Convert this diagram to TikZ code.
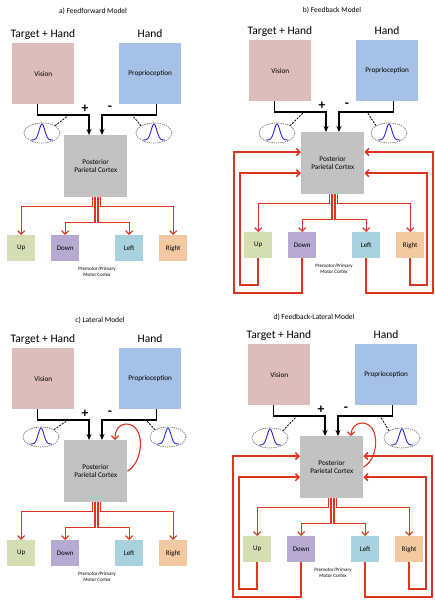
\documentclass[tikz,border=0pt]{standalone}
\usepackage{fontspec}
\setmainfont{Carlito}
\usetikzlibrary{arrows.meta,shapes.geometric,calc}
\definecolor{visc}{RGB}{221,188,188}
\definecolor{propc}{RGB}{166,193,230}
\definecolor{ppcc}{RGB}{194,194,194}
\definecolor{upc}{RGB}{213,222,178}
\definecolor{downc}{RGB}{182,170,210}
\definecolor{leftc}{RGB}{168,210,222}
\definecolor{rightc}{RGB}{243,201,162}
\definecolor{myred}{RGB}{224,52,30}
\definecolor{gaussc}{RGB}{40,40,220}
\tikzset{
  ppcbox/.style={anchor=north west,fill=ppcc,minimum width=63pt,minimum height=62pt,inner sep=0pt,align=center,font=\fontsize{7.2}{8.6}\selectfont},
  vbox/.style={anchor=north west,minimum width=62pt,minimum height=61pt,inner sep=0pt,font=\fontsize{7.2}{8}\selectfont},
  mbox/.style={anchor=north west,minimum width=28pt,minimum height=26pt,inner sep=0pt,font=\fontsize{7}{8}\selectfont},
  headtxt/.style={font=\fontsize{11.5}{13}\selectfont,inner sep=0pt},
  titletxt/.style={font=\fontsize{7.5}{9}\selectfont,inner sep=0pt},
  smalltxt/.style={font=\fontsize{5}{6}\selectfont,align=center,inner sep=0pt},
  signtxt/.style={font=\fontsize{13.5}{14}\bfseries\selectfont,inner sep=0pt},
  gell/.style={ellipse,draw=black!70,dashed,dash pattern=on 1.2pt off 1pt,line width=0.6pt,minimum width=36pt,minimum height=20pt,inner sep=0pt},
  gauss/.style={gaussc,line width=0.9pt},
  blk/.style={black,line width=1.3pt,-{Stealth[length=6pt,width=5pt]}},
  dline/.style={black,line width=0.8pt,dashed,dash pattern=on 2pt off 1.2pt},
  redarr/.style={myred,line width=1.2pt,-{Straight Barb[length=3.5pt,width=7pt]}},
  fbarr/.style={myred,line width=1.5pt,-{Straight Barb[length=3.5pt,width=7pt]}},
  latarr/.style={myred,line width=1.1pt,-{Straight Barb[length=3.5pt,width=7pt]}},
}
% #1 prefix, #2 left ellipse x, #3 right ellipse x, #4 ellipse y
\newcommand\panelcore[4]{%
  \node[ppcbox] (#1ppc) at (0,0) {Posterior\\Parietal Cortex};
  \node[vbox,fill=visc] (#1vis) at (-52,-92) {Vision};
  \node[vbox,fill=propc] (#1prop) at (55,-92) {Proprioception};
  \node[headtxt] (#1th) at (-21,-101) {Target + Hand};
  \node[headtxt] (#1h) at (86,-101) {Hand};
  \coordinate (#1ml) at (25,-20);
  \coordinate (#1mr) at (38,-20);
  \draw[blk] ([xshift=-6pt]#1vis.south) |- (#1ml) -- ([xshift=25pt]#1ppc.north west);
  \draw[blk] ([xshift=6pt]#1prop.south) |- (#1mr) -- ([xshift=38pt]#1ppc.north west);
  \node[signtxt] (#1plus) at (21,-26) {+};
  \node[signtxt] (#1minus) at (46,-27) {-};
  \node[gell] (#1el) at (#2,#4) {};
  \node[gell] (#1er) at (#3,#4) {};
  \draw[gauss] plot[smooth,domain=-11:11,samples=31] ({\x+#2},{#4+7-16*exp(0-(\x/4)*(\x/4))});
  \draw[gauss] plot[smooth,domain=-11:11,samples=31] ({\x+#3},{#4+7-16*exp(0-(\x/4)*(\x/4))});
  \coordinate (#1dl) at ({#2+27},-20);
  \coordinate (#1dr) at ({#3-22},-20);
  \draw[dline] (#1el.north east) -- (#1dl);
  \draw[dline] (#1er.north west) -- (#1dr);
  \node[mbox,fill=upc] (#1up) at (-57,100) {Up};
  \node[mbox,fill=downc] (#1down) at (-13,100) {Down};
  \node[mbox,fill=leftc] (#1left) at (51,100) {Left};
  \node[mbox,fill=rightc] (#1right) at (95,100) {Right};
  \node[smalltxt] (#1pm) at (33,137) {Premotor/Primary\\Motor Cortex};
  \draw[redarr] ([xshift=28.5pt]#1ppc.south west) -- ++(0,9) -| (#1up.north);
  \draw[redarr] ([xshift=31pt]#1ppc.south west) -- ++(0,25) -| (#1down.north);
  \draw[redarr] ([xshift=34pt]#1ppc.south west) -- ++(0,25) -| (#1left.north);
  \draw[redarr] ([xshift=36.5pt]#1ppc.south west) -- ++(0,9) -| (#1right.north);
}
\newcommand\feedback[1]{%
  \coordinate (#1fa) at (-61,153);
  \coordinate (#1fb) at (-67,161);
  \coordinate (#1fc) at (126,153);
  \coordinate (#1fd) at (132,161);
  \draw[fbarr] (#1up.south) |- (#1fa) |- ([yshift=-10pt]#1ppc.west);
  \draw[fbarr] (#1down.south) |- (#1fb) |- ([yshift=-20pt]#1ppc.north west);
  \draw[fbarr] (#1right.south) |- (#1fc) |- ([yshift=-10pt]#1ppc.east);
  \draw[fbarr] (#1left.south) |- (#1fd) |- ([yshift=-20pt]#1ppc.north east);
}
\newcommand\lateral[3]{%
  \draw[latarr] (#1ppc.east) .. controls (80,22) and (#2,-#3) .. (62,-#3) .. controls (55,-#3) and (51,{-#3+6}) .. ([xshift=51pt]#1ppc.north west);
}
\begin{document}
\begin{tikzpicture}[x=1pt,y=-1pt]
\useasboundingbox[fill=white] (0,0) rectangle (434,600);
\begin{scope}[shift={(64,135)}]
  \panelcore{a}{-22}{90}{-2}
  \node[titletxt] (atitle) at (29,-124) {a) Feedforward Model};
\end{scope}
\begin{scope}[shift={(301,132)}]
  \panelcore{b}{-24}{88}{1}
  \node[titletxt] (btitle) at (31,-122) {b) Feedback Model};
  \feedback{b}
\end{scope}
\begin{scope}[shift={(64,440)}]
  \panelcore{c}{-23}{104}{-3}
  \node[titletxt] (ctitle) at (36,-120) {c) Lateral Model};
  \lateral{c}{82}{16}
\end{scope}
\begin{scope}[shift={(300,436)}]
  \panelcore{d}{-30}{102}{2}
  \node[titletxt] (dtitle) at (14,-119) {d) Feedback-Lateral Model};
  \feedback{d}
  \lateral{d}{80}{13}
\end{scope}
\end{tikzpicture}
\end{document}
